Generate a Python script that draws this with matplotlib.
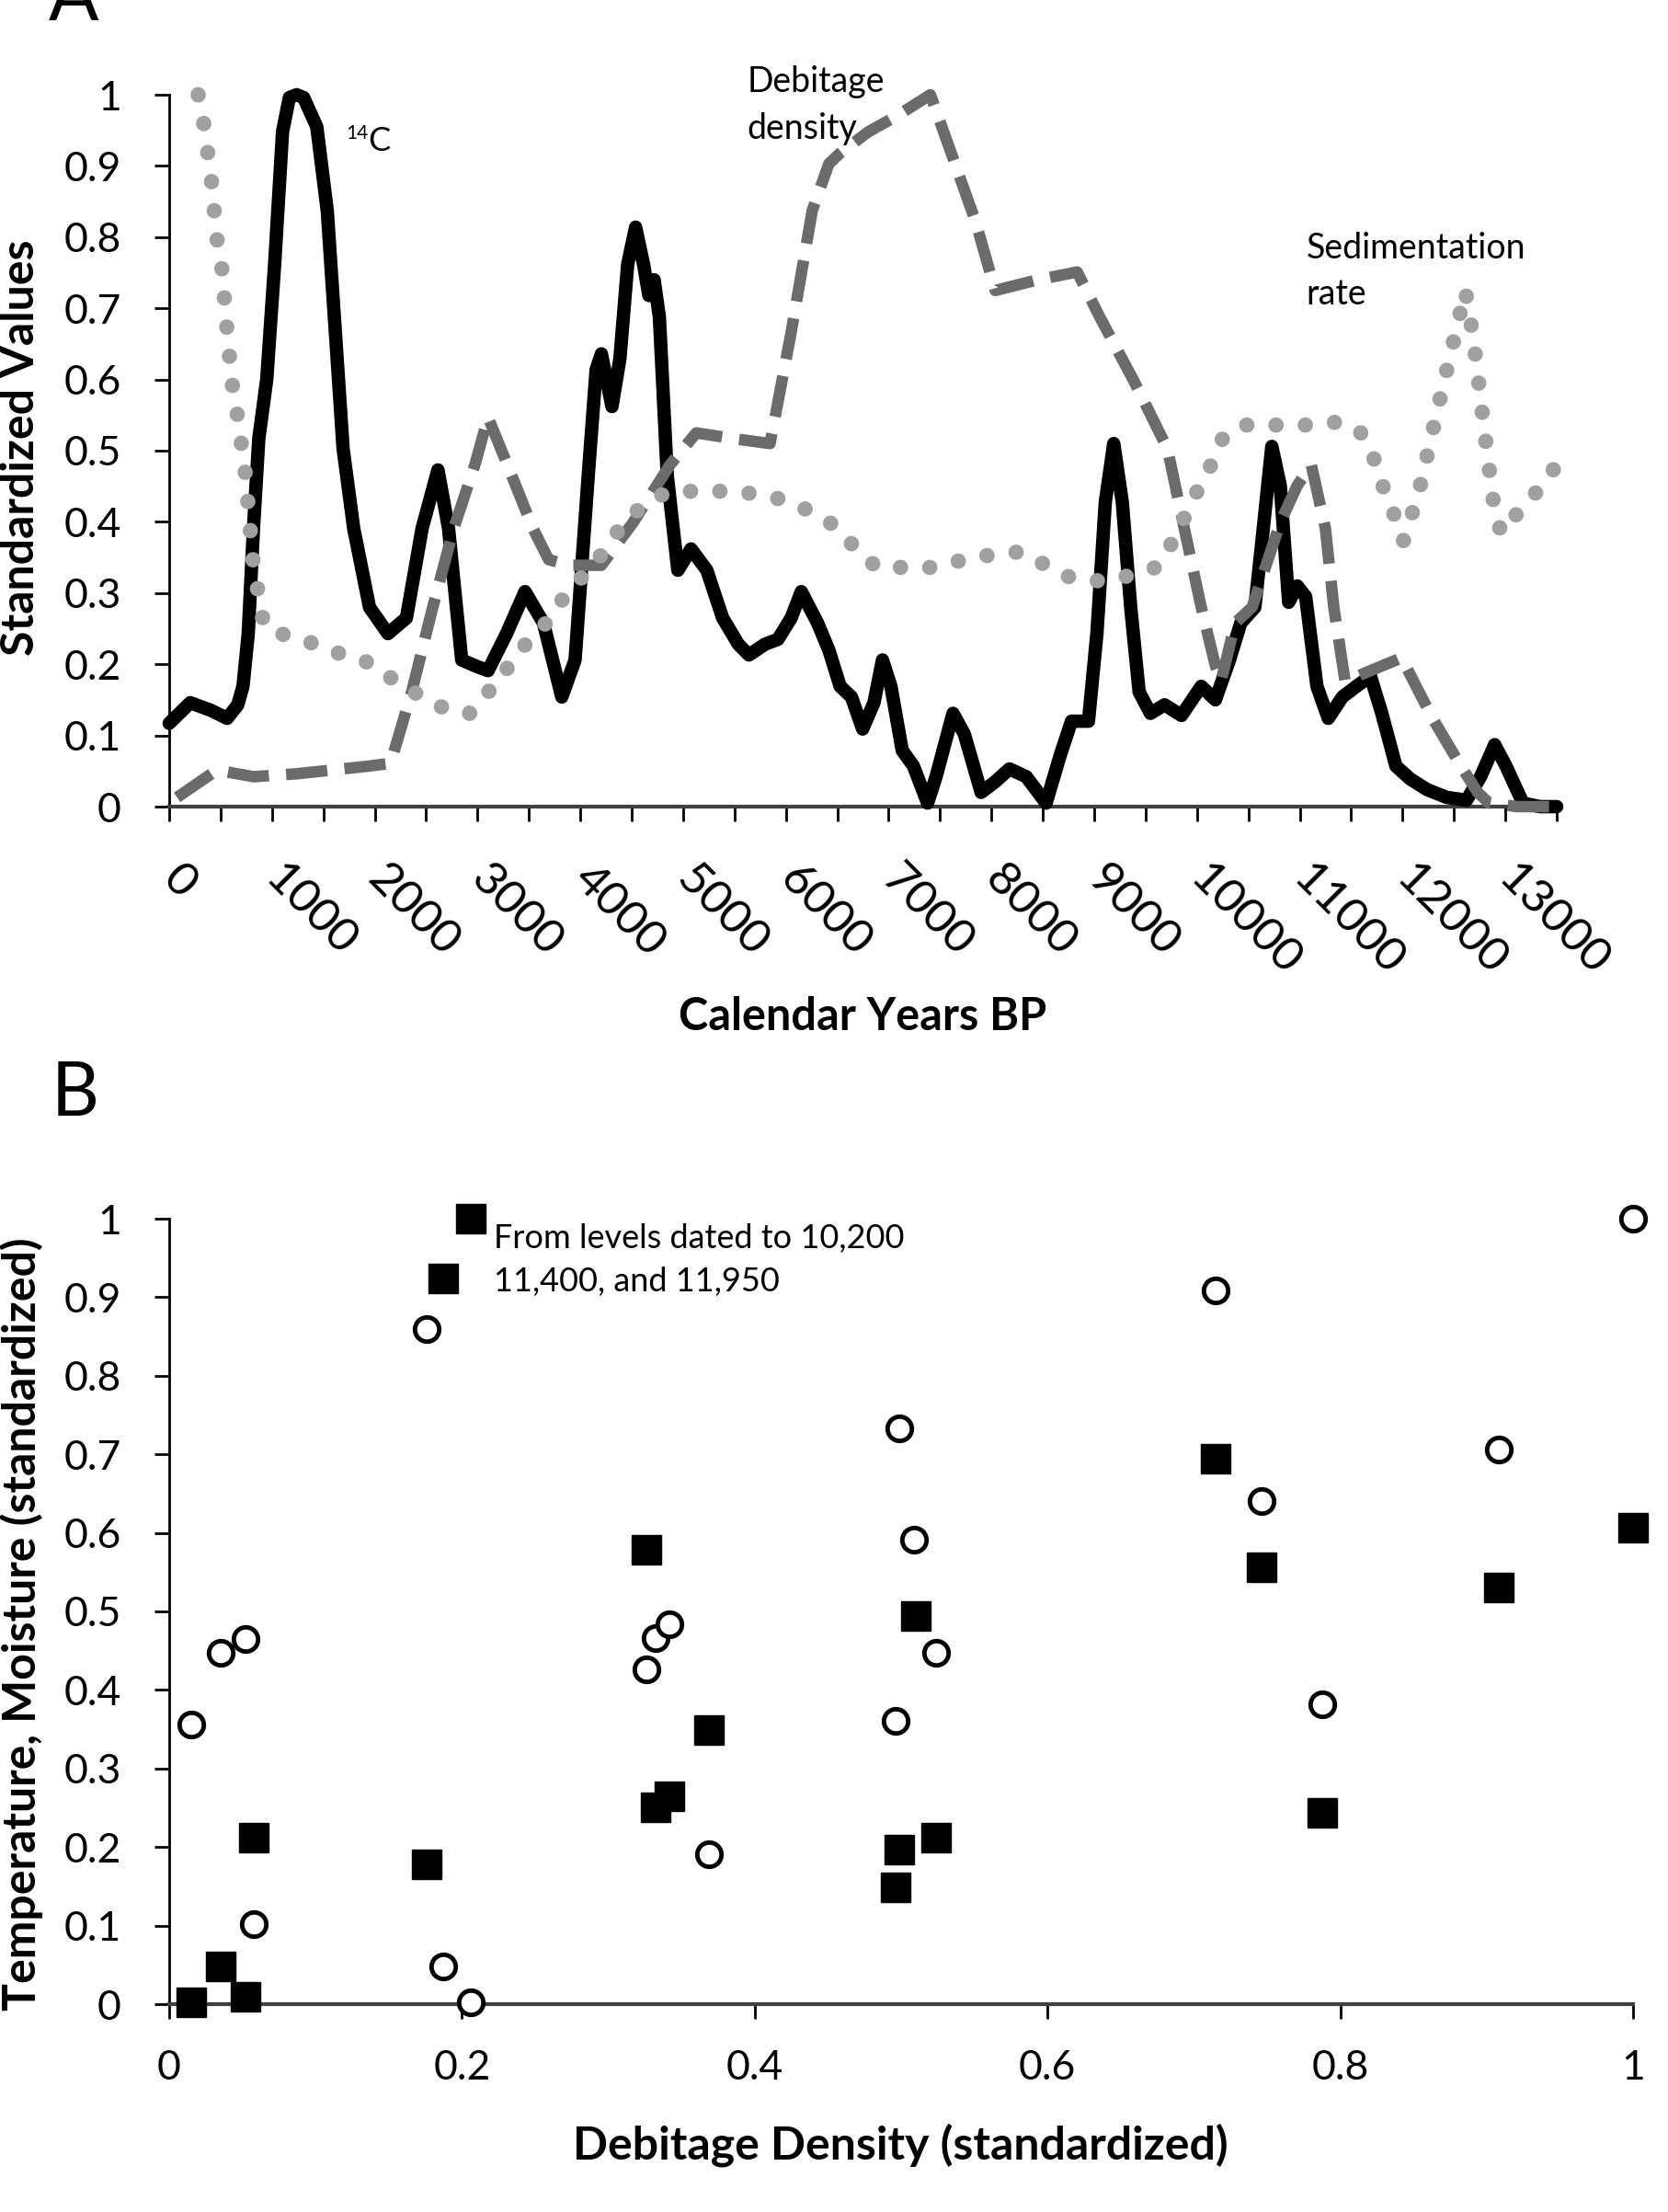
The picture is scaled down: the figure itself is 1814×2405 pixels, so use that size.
import numpy as np
import matplotlib.pyplot as plt

plt.rcParams['font.family'] = ['Lato', 'DejaVu Sans']

# Panel A: standardized series against calendar years BP
years_14c = [0, 205, 410, 564, 667, 718, 769, 820, 872, 949,
             1026, 1103, 1169, 1240, 1308, 1436, 1538, 1641, 1692, 1795,
             1949, 2128, 2308, 2461, 2615, 2718, 2846, 2974, 3102, 3282,
             3462, 3641, 3820, 3949, 4077, 4154, 4205, 4308, 4385, 4461,
             4538, 4615, 4667, 4718, 4769, 4846, 4949, 5077, 5231, 5385,
             5538, 5641, 5795, 5923, 6051, 6150, 6308, 6418, 6528, 6638,
             6747, 6857, 6940, 7022, 7132, 7241, 7379, 7461, 7626, 7736,
             7900, 8037, 8175, 8339, 8532, 8669, 8779, 8944, 9026, 9108,
             9190, 9273, 9355, 9437, 9547, 9684, 9849, 10041, 10179, 10316,
             10426, 10563, 10645, 10728, 10810, 10892, 10975, 11057, 11167, 11277,
             11414, 11551, 11688, 11798, 11935, 12073, 12237, 12429, 12622, 12759,
             12896, 13006, 13171, 13335, 13500]
c14 = [0.117, 0.146, 0.135, 0.124, 0.143, 0.169, 0.243, 0.391, 0.517, 0.6,
       0.762, 0.948, 0.996, 1.0, 0.996, 0.955, 0.837, 0.614, 0.503, 0.391,
       0.28, 0.243, 0.265, 0.391, 0.473, 0.391, 0.206, 0.198, 0.191, 0.243,
       0.302, 0.258, 0.154, 0.206, 0.465, 0.614, 0.636, 0.562, 0.629, 0.762,
       0.814, 0.762, 0.718, 0.74, 0.688, 0.465, 0.332, 0.362, 0.332, 0.265,
       0.228, 0.213, 0.228, 0.235, 0.265, 0.302, 0.258, 0.22, 0.169, 0.154,
       0.109, 0.146, 0.206, 0.169, 0.079, 0.057, 0.005, 0.042, 0.131, 0.102,
       0.02, 0.035, 0.053, 0.042, 0.005, 0.072, 0.12, 0.12, 0.243, 0.428,
       0.51, 0.428, 0.28, 0.161, 0.131, 0.143, 0.128, 0.169, 0.15, 0.206,
       0.258, 0.28, 0.391, 0.506, 0.451, 0.287, 0.31, 0.295, 0.169, 0.124,
       0.154, 0.169, 0.183, 0.131, 0.057, 0.039, 0.024, 0.013, 0.009, 0.042,
       0.087, 0.057, 0.005, 0.0, 0.0]

years_deb = [77, 410, 513, 820, 1231, 1949, 2154, 2359, 2564, 2769,
             2974, 3102, 3333, 3538, 3692, 3897, 4205, 4513, 4872, 5128,
             5487, 5846, 6051, 6256, 6418, 6528, 6803, 7077, 7406, 7626,
             7845, 8037, 8449, 8834, 9053, 9382, 9712, 9876, 10041, 10179,
             10234, 10371, 10536, 10810, 10975, 11112, 11249, 11331, 11441, 11688,
             11990, 12292, 12567, 12731, 12841, 13116, 13500]
debitage = [0.013, 0.046, 0.05, 0.042, 0.046, 0.057, 0.061, 0.161, 0.28, 0.391,
            0.48, 0.547, 0.465, 0.391, 0.347, 0.339, 0.339, 0.399, 0.48, 0.525,
            0.517, 0.51, 0.666, 0.837, 0.903, 0.918, 0.948, 0.97, 1.0, 0.911,
            0.822, 0.725, 0.74, 0.751, 0.688, 0.599, 0.503, 0.391, 0.28, 0.198,
            0.176, 0.258, 0.28, 0.399, 0.451, 0.48, 0.391, 0.28, 0.176, 0.191,
            0.209, 0.124, 0.057, 0.02, 0.005, 0.0, 0.0]

years_sed = [282, 333, 410, 462, 513, 564, 615, 667, 708, 744,
             769, 820, 872, 923, 1154, 1436, 1692, 1949, 2205, 2461,
             2718, 2923, 3128, 3308, 3487, 3667, 3846, 4026, 4205, 4385,
             4590, 4820, 5077, 5385, 5667, 5949, 6205, 6473, 6665, 6885,
             7159, 7434, 7736, 8010, 8285, 8532, 8779, 9053, 9328, 9602,
             9767, 10014, 10151, 10261, 10481, 10783, 11084, 11359, 11578, 11716,
             11798, 11908, 12007, 12155, 12347, 12611, 12688, 12786, 12896, 12962,
             13143, 13335, 13500]
sedimentation = [1.0, 0.963, 0.881, 0.8, 0.755, 0.666, 0.592, 0.547, 0.503, 0.465,
                 0.421, 0.339, 0.295, 0.254, 0.239, 0.228, 0.213, 0.202, 0.176, 0.154,
                 0.135, 0.131, 0.165, 0.198, 0.232, 0.258, 0.295, 0.324, 0.354, 0.391,
                 0.421, 0.44, 0.443, 0.443, 0.44, 0.432, 0.417, 0.395, 0.365, 0.336,
                 0.336, 0.336, 0.347, 0.354, 0.358, 0.339, 0.321, 0.317, 0.324, 0.336,
                 0.373, 0.447, 0.484, 0.521, 0.536, 0.536, 0.536, 0.54, 0.529, 0.491,
                 0.454, 0.414, 0.373, 0.44, 0.562, 0.725, 0.659, 0.54, 0.414, 0.384,
                 0.417, 0.447, 0.48]

# Panel B: debitage density vs temperature (circles) and moisture (squares)
deb_circles = [0.015, 0.035, 0.052, 0.058, 0.176, 0.187, 0.206, 0.326, 0.332, 0.342,
               0.369, 0.499, 0.509, 0.524, 0.496, 0.715, 0.746, 0.788, 0.908, 1.0]
val_circles = [0.356, 0.447, 0.465, 0.102, 0.86, 0.048, 0.002, 0.426, 0.466, 0.484,
               0.191, 0.733, 0.591, 0.447, 0.361, 0.909, 0.64, 0.382, 0.706, 1.0]
deb_squares = [0.015, 0.035, 0.052, 0.058, 0.176, 0.187, 0.206, 0.326, 0.332, 0.342,
               0.369, 0.51, 0.499, 0.524, 0.496, 0.715, 0.746, 0.788, 0.908, 1.0]
val_squares = [0.002, 0.048, 0.009, 0.212, 0.178, 0.924, 1.0, 0.579, 0.251, 0.265,
               0.349, 0.494, 0.197, 0.212, 0.149, 0.694, 0.556, 0.243, 0.531, 0.606]

W, H = 1815, 2405
fig = plt.figure(figsize=(W / 100, H / 100), dpi=100)

# ---- panel A ----
axA = fig.add_axes([184 / W, 1 - 877 / H, (1693 - 184) / W, (877 - 103) / H])
axA.plot(years_14c, c14, color='black', lw=10.5, solid_joinstyle='round',
         solid_capstyle='round', clip_on=False, zorder=3)
axA.plot(years_deb, debitage, color='#6b6b6b', lw=9, linestyle=(0, (3.6, 1.5)),
         dash_capstyle='butt', clip_on=False, zorder=4)
axA.plot(years_sed, sedimentation, color='#a0a0a0', lw=12, linestyle=(0, (0.01, 1.9)),
         dash_capstyle='round', clip_on=False, zorder=5)

axA.set_xlim(0, 13500)
axA.set_ylim(0, 1)
xt = np.arange(0, 13501, 500)
axA.set_xticks(xt)
axA.set_xticklabels([str(v) if v % 1000 == 0 else '' for v in xt], rotation=-45,
                    ha='left', va='center', rotation_mode='anchor', fontsize=37)
yt = np.round(np.arange(0, 1.01, 0.1), 1)
ylabs = ['0' if v == 0 else '1' if v == 1 else f'{v:.1f}' for v in yt]
axA.set_yticks(yt)
axA.set_yticklabels(ylabs, fontsize=32)
axA.tick_params(axis='x', length=11.5, width=2, pad=40)
axA.tick_params(axis='y', length=11.5, width=2, pad=26)
axA.spines['top'].set_visible(False)
axA.spines['right'].set_visible(False)
axA.spines['left'].set_linewidth(2)
axA.spines['bottom'].set_linewidth(3)
axA.spines['bottom'].set_color('#404040')

axA.set_xlabel('Calendar Years BP', fontsize=35, fontweight='bold', va='center')
axA.xaxis.set_label_coords(0.5, -0.2946)
axA.set_ylabel('Standardized Values', fontsize=36, fontweight='bold', va='center')
axA.yaxis.set_label_coords(-0.1067, 0.504)

axA.text(1832, 0.946, '14', fontsize=15, ha='center', va='center')
axA.text(2046, 0.935, 'C', fontsize=26, ha='center', va='center')
axA.text(5621, 0.985, 'Debitage\ndensity', fontsize=27, ha='left', va='center',
         linespacing=1.5)
axA.text(11063, 0.752, 'Sedimentation\nrate', fontsize=27, ha='left', va='center',
         linespacing=1.5)

# ---- panel B ----
axB = fig.add_axes([184 / W, 1 - 2179 / H, (1776 - 184) / W, (2179 - 1325) / H])
axB.plot(deb_circles, val_circles, 'o', ms=19, mfc='white', mec='black', mew=3.5,
         clip_on=False, zorder=3)
axB.plot(deb_squares, val_squares, 's', ms=23.5, color='black', mew=1,
         clip_on=False, zorder=4)
axB.set_xlim(0, 1)
axB.set_ylim(0, 1)
bx = np.round(np.arange(0, 1.01, 0.2), 1)
axB.set_xticks(bx)
axB.set_xticklabels(['0' if v == 0 else '1' if v == 1 else f'{v:.1f}' for v in bx],
                    fontsize=32)
axB.set_yticks(yt)
axB.set_yticklabels(ylabs, fontsize=32)
axB.tick_params(axis='x', length=11.5, width=2, pad=24)
axB.tick_params(axis='y', length=11.5, width=2, pad=26)
axB.spines['top'].set_visible(False)
axB.spines['right'].set_visible(False)
axB.spines['left'].set_linewidth(2)
axB.spines['bottom'].set_linewidth(3)
axB.spines['bottom'].set_color('#404040')

axB.set_xlabel('Debitage Density (standardized)', fontsize=36, fontweight='bold',
               va='center')
axB.xaxis.set_label_coords(0.4994, -0.179)
axB.set_ylabel('Temperature, Moisture (standardized)', fontsize=36, fontweight='bold',
               va='center')
axB.yaxis.set_label_coords(-0.101, 0.484)

axB.text(0.222, 0.9475, 'From levels dated to 10,200\n11,400, and 11,950', fontsize=26,
         ha='left', va='center', linespacing=1.5)

# panel letters
fig.text(53 / W, 1 - 22 / H, 'A', fontsize=58, va='baseline', ha='left')
fig.text(56 / W, 1 - 1213 / H, 'B', fontsize=58, va='baseline', ha='left')

fig.savefig('out.png', dpi=100)
